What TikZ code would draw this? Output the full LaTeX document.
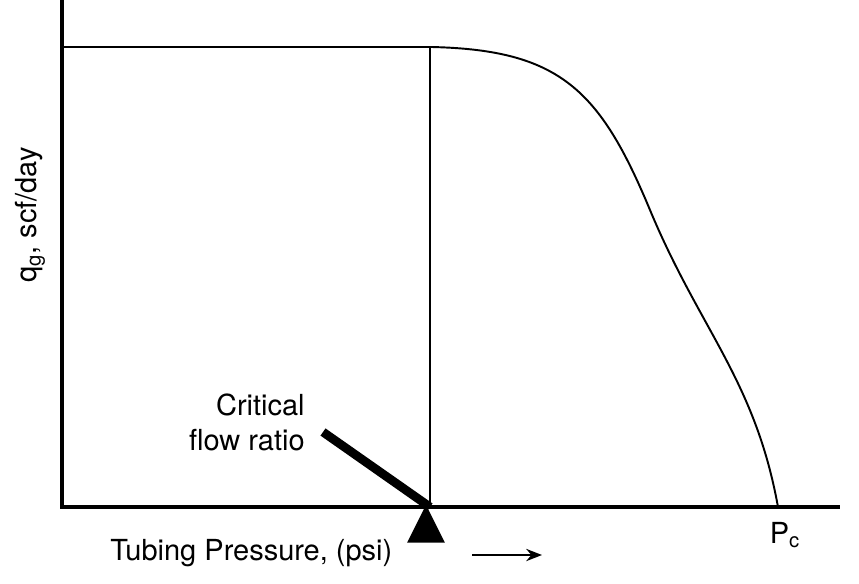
\documentclass[tikz,border=0pt]{standalone}
\usepackage{fontspec}
\setmainfont{TeX Gyre Heros}
\usetikzlibrary{arrows.meta}
\begin{document}
\begin{tikzpicture}[x=0.02cm,y=-0.02cm,
  lbl/.style={font=\fontsize{16.5}{19}\selectfont, inner sep=0pt},
  axis/.style={line width=2.2pt},
  thin/.style={line width=1.1pt}]
\useasboundingbox (0,0) rectangle (859,583);
\coordinate (o) at (62,507);
\coordinate (ytop) at (62,0);
\coordinate (xend) at (840,507);
\coordinate (tl) at (62,47);
\coordinate (tr) at (432,47);
\coordinate (vb) at (430,507);
\coordinate (vt) at (430,47);
\coordinate (pc) at (778,507);
\draw[axis] (ytop) -- (o) -- (xend);
\draw[thin] (tl) -- (tr);
\draw[thin] (vt) -- (vb);
\draw[thin] (tr) .. controls (560,50) and (600,90) .. (650,210)
  .. controls (700,330) and (755,380) .. (pc);
\node[lbl, anchor=east] (crit) at (305,405) {Critical};
\node[lbl, anchor=east] (flow) at (305,440) {flow ratio};
\coordinate (as) at (323,432);
\draw[line width=5pt, -{Triangle[length=22pt,width=20pt]}] (as) -- (vb.center) ++(-4,-3);
\node[lbl] (pclab) at (785,535) {P\textsubscript{c}};
\node[lbl, anchor=west] (xlab) at (110,553) {Tubing Pressure, (psi)};
\coordinate (xa1) at (472,555);
\coordinate (xa2) at (542,555);
\draw[thin,-{Stealth[length=9pt,width=7pt]}] (xa1) -- (xa2);
\node[lbl, rotate=90] (ylab) at (30,215) {q\textsubscript{g}, scf/day};
\end{tikzpicture}
\end{document}
